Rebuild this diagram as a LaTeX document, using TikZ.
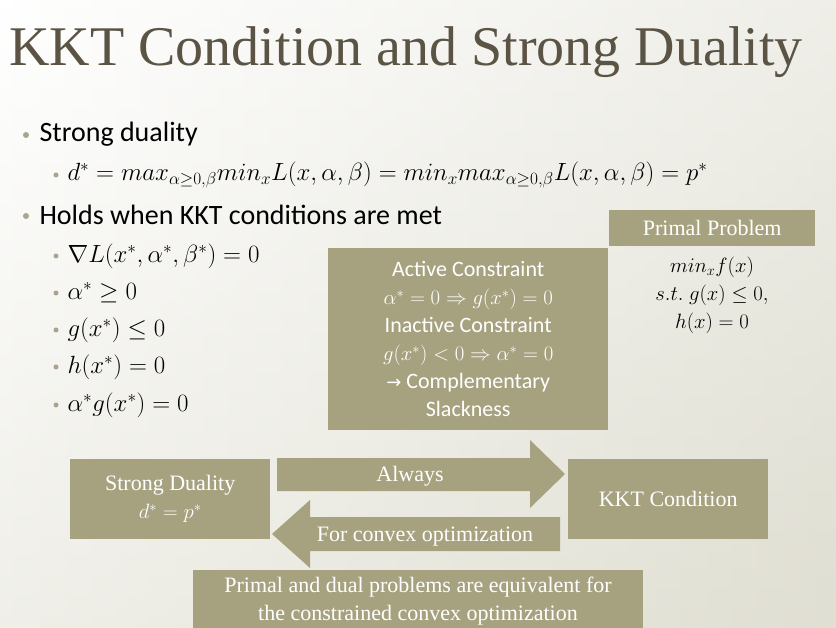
\documentclass[tikz,border=0pt]{standalone}
\usepackage{amsmath,amssymb}
\usepackage{fontspec}
\setmainfont{Liberation Serif}
\newfontfamily\bodyf{Carlito}
\usetikzlibrary{calc}
\definecolor{olive}{HTML}{A6A27F}
\definecolor{ttl}{HTML}{5B5445}
\definecolor{bul}{HTML}{A9A58C}
\begin{document}
\begin{tikzpicture}[x=1pt,y=-1pt,
  box/.style={fill=olive,draw=none,text=white,font=\fontsize{22}{28}\selectfont,align=center},
  bt/.style={anchor=west,font=\bodyf\fontsize{28}{32}\selectfont,text=black},
  st/.style={anchor=west,font=\fontsize{25}{29}\selectfont,text=black},
  dot/.style={circle,fill=bul,inner sep=0pt,minimum size=#1}]
\useasboundingbox (0,0) rectangle (836,628);
\shade[top color=white,bottom color=olive!35] (0,0) rectangle (836,628);
\shade[left color=white,right color=olive!35,opacity=0.5] (0,0) rectangle (836,628);
\node[anchor=base west,text=ttl,font=\fontsize{56}{60}\selectfont] (title) at (6,66) {KKT Condition and Strong Duality};
% bullets
\node[dot=6pt] (d1) at (26,135) {}; \node[bt] (b1) at (36,134) {Strong duality};
\node[dot=5pt] (d2) at (56,175) {}; \node[st] (s1) at (64,175) {$d^*=max_{\alpha\ge0,\beta}min_xL(x,\alpha,\beta)=min_xmax_{\alpha\ge0,\beta}L(x,\alpha,\beta)=p^*$};
\node[dot=6pt] (d3) at (26,216) {}; \node[bt] (b2) at (36,215) {Holds when KKT conditions are met};
\foreach \y/\t [count=\i] in {256/{$\nabla L(x^*,\alpha^*,\beta^*)=0$},293/{$\alpha^*\ge0$},330/{$g(x^*)\le0$},367/{$h(x^*)=0$},405/{$\alpha^*g(x^*)=0$}}{
  \node[dot=5pt] (e\i) at (56,\y) {};
  \node[st] (k\i) at (64,\y) {\t};}
% primal
\node[box,minimum width=206,minimum height=36,anchor=north west] (pp) at (609,210) {Primal Problem};
\node[anchor=north,align=center,font=\fontsize{22}{28}\selectfont] (pt) at (712,253) {$min_xf(x)$\\$s.t.\ g(x)\le0,$\\$h(x)=0$};
% center box
\node[box,minimum width=280,minimum height=182,anchor=north west] (cb) at (328,248) {};
\node[text=white,align=center,font=\bodyf\fontsize{22}{28}\selectfont] (ct) at (cb.center) {Active Constraint\\$\alpha^*=0\Rightarrow g(x^*)=0$\\Inactive Constraint\\$g(x^*)<0\Rightarrow\alpha^*=0$\\{\fontspec{DejaVu Sans}\fontsize{18}{20}\selectfont →} Complementary\\Slackness};
% boxes
\node[box,minimum width=200,minimum height=80,anchor=north west] (sd) at (70,459) {Strong Duality\\$d^*=p^*$};
\node[box,minimum width=200,minimum height=80,anchor=north west] (kkt) at (568,459) {KKT Condition};
% arrows
\fill[olive] (277,458) -- (530,458) -- (530,440) -- (565,474) -- (530,508) -- (530,491) -- (277,491) -- cycle;
\node[text=white,font=\fontsize{22}{24}\selectfont] (al) at (410,476) {Always};
\fill[olive] (560,517) -- (310,517) -- (310,500) -- (272,534) -- (310,568) -- (310,551) -- (560,551) -- cycle;
\node[text=white,font=\fontsize{22}{24}\selectfont] (fc) at (425,537) {For convex optimization};
\node[box,minimum width=450,minimum height=62,anchor=north west] (bb) at (193,570) {};
\node[text=white,align=center,anchor=north,font=\fontsize{22}{28}\selectfont] (bt) at (418,573) {Primal and dual problems are equivalent for\\the constrained convex optimization};
\end{tikzpicture}
\end{document}
